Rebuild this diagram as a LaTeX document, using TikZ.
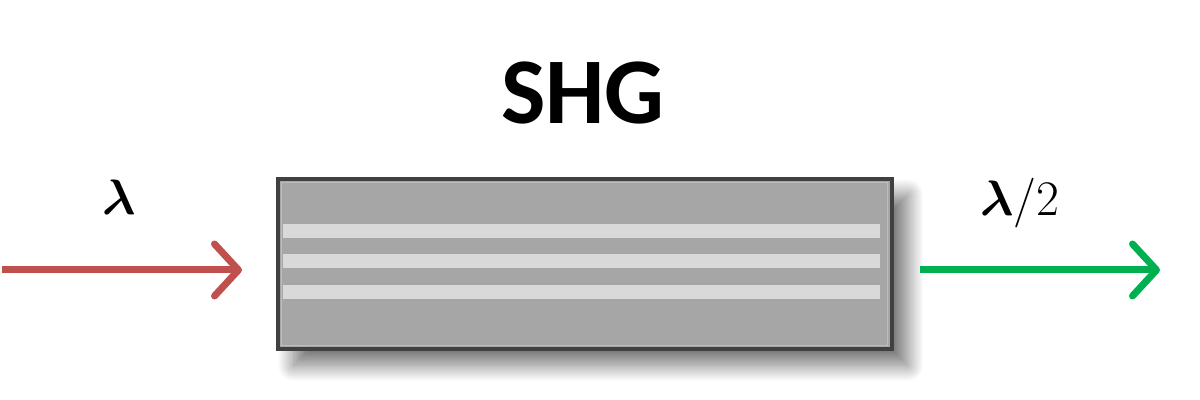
\documentclass[tikz,border=0pt]{standalone}
\usepackage{fontspec}
\usepackage{amsmath,bm}
\setsansfont{Carlito}
\usetikzlibrary{arrows.meta,shadows.blur}
\definecolor{redarr}{HTML}{C0504D}
\definecolor{greenarr}{HTML}{00B050}
\definecolor{boxfill}{HTML}{A6A6A6}
\definecolor{boxline}{HTML}{404040}
\definecolor{stripe}{HTML}{D9D9D9}
\definecolor{inner}{HTML}{BDBDBD}
\tikzset{
  beam/.style={line width=3.5pt, -{Straight Barb[length=12pt,width=26pt,line width=3.5pt,line cap=round,round]}},
  crystal/.style={draw=boxline, line width=2.2pt, fill=boxfill, blur shadow={shadow xshift=8pt, shadow yshift=-8pt, shadow blur radius=8pt, shadow blur steps=30, shadow opacity=55}},
  innerline/.style={draw=inner, line width=0.5pt},
  stripebar/.style={fill=stripe, draw=none},
  lbl/.style={font=\fontsize{36}{40}\selectfont, inner sep=0pt}
}
\begin{document}
\begin{tikzpicture}[x=0.5pt,y=-0.5pt]
\useasboundingbox (0,0) rectangle (1200,400);
\node[crystal, minimum width=307pt, minimum height=85pt, inner sep=0pt, anchor=north west] (box) at (275.5,177) {};
\draw[innerline] ([xshift=3pt,yshift=-3pt]box.north west) rectangle ([xshift=-3pt,yshift=3pt]box.south east);
\fill[stripebar] (283,224) rectangle (880,238);
\fill[stripebar] (283,254) rectangle (880,268);
\fill[stripebar] (283,285) rectangle (880,299);
\node[font=\sffamily\bfseries\fontsize{47}{52}\selectfont, inner sep=0pt] (title) at (583,93) {SHG};
\coordinate (inL) at (2,270);
\coordinate (outR) at (1160,270);
\coordinate (boxL) at (242,270);
\coordinate (boxR) at (920,270);
\draw[beam, redarr] (inL) -- (boxL);
\draw[beam, greenarr] (boxR) -- (outR);
\node[lbl] (lam) at (119,197) {$\bm{\lambda}$};
\node[lbl] (lam2) at (1020,203) {$\bm{\lambda}/2$};
\end{tikzpicture}
\end{document}
